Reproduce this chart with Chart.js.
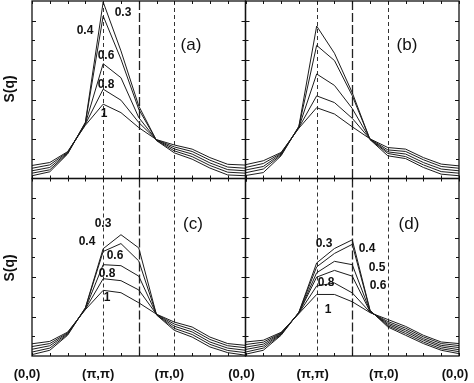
<!DOCTYPE html>
<html><head><meta charset="utf-8">
<script src="https://cdn.jsdelivr.net/npm/chart.js@4"></script>
<style>html,body{margin:0;padding:0;background:#fff;}#wrap{position:relative;width:474px;height:383px;}canvas{display:block;}</style>
</head><body><div id="wrap"><canvas id="c" width="474" height="383"></canvas></div>
<script>
// q-path index: (0,0) -> (pi,pi) -> (pi,0) -> (0,0)
const qIndex = [0,1,2,3,4,5,6,7,8,9,10,11,12];
const xTickPos = [0,4,8,12];
const xTickText = ['(0,0)','(\u03c0,\u03c0)','(\u03c0,0)','(0,0)'];
const yTickVals = [1,2,3,4,5,6,7,8];

// panel (a)
const a03 = [0.14,0.34,1.24,2.85,8.95,6.47,3.68,1.92,1.30,0.98,0.53,0.18,0.14];
const a04 = [0.27,0.44,1.27,2.82,8.24,6.05,3.51,1.93,1.40,1.11,0.66,0.32,0.27];
const a06 = [0.39,0.56,1.30,2.78,5.82,5.11,3.09,1.95,1.50,1.24,0.79,0.45,0.39];
const a08 = [0.52,0.69,1.33,2.75,4.53,3.97,2.84,1.96,1.60,1.37,0.93,0.58,0.52];
const a10 = [0.66,0.81,1.36,2.70,3.77,3.34,2.58,1.97,1.70,1.49,1.06,0.72,0.68];
// panel (b)
const b03 = [0.15,0.30,1.15,2.65,7.73,6.35,4.35,1.97,1.15,1.01,0.56,0.22,0.14];
const b04 = [0.29,0.48,1.19,2.63,6.75,5.98,4.20,1.98,1.27,1.11,0.69,0.35,0.27];
const b06 = [0.43,0.61,1.24,2.60,5.30,4.72,3.55,1.99,1.35,1.24,0.81,0.48,0.39];
const b08 = [0.56,0.76,1.28,2.58,4.19,3.85,3.05,2.00,1.45,1.37,0.95,0.61,0.52];
const b10 = [0.70,0.90,1.32,2.55,3.59,3.27,2.62,2.01,1.57,1.49,1.06,0.73,0.64];
// panel (c)
const c03 = [0.07,0.29,1.05,2.45,5.44,6.15,5.48,2.08,1.30,0.96,0.46,0.17,0.04];
const c04 = [0.20,0.40,1.09,2.43,5.30,5.70,4.82,2.09,1.40,1.09,0.59,0.28,0.17];
const c06 = [0.34,0.52,1.13,2.40,4.63,4.58,4.05,2.10,1.51,1.22,0.71,0.40,0.29];
const c08 = [0.48,0.63,1.17,2.38,3.92,3.82,3.35,2.11,1.62,1.34,0.84,0.52,0.42];
const c10 = [0.62,0.74,1.21,2.35,3.33,3.21,2.70,2.12,1.72,1.47,0.96,0.63,0.54];
// panel (d)
const d03 = [0.09,0.29,1.05,2.22,4.72,5.45,5.89,2.32,1.47,1.05,0.63,0.29,0.12];
const d04 = [0.20,0.40,1.08,2.21,4.52,5.20,5.66,2.30,1.53,1.14,0.71,0.37,0.22];
const d05 = [0.33,0.50,1.11,2.20,4.22,4.80,4.63,2.27,1.60,1.23,0.80,0.46,0.32];
const d06 = [0.45,0.60,1.14,2.18,4.00,4.34,4.05,2.25,1.67,1.32,0.88,0.54,0.43];
const d08 = [0.58,0.70,1.17,2.17,3.55,3.70,3.20,2.22,1.75,1.41,0.97,0.63,0.53];
const d10 = [0.71,0.80,1.20,2.15,3.12,3.12,2.75,2.20,1.85,1.50,1.05,0.71,0.63];

const panels = [
  {xs:'xL', ys:'yT', tag:'(a)', series:[a03,a04,a06,a08,a10]},
  {xs:'xR', ys:'yT', tag:'(b)', series:[b03,b04,b06,b08,b10]},
  {xs:'xL', ys:'yB', tag:'(c)', series:[c03,c04,c06,c08,c10]},
  {xs:'xR', ys:'yB', tag:'(d)', series:[d03,d04,d05,d06,d08,d10]}
];

const datasets = [];
panels.forEach(p => p.series.forEach(s => datasets.push({
  data: qIndex.map((q,i) => ({x:q, y:s[i]})),
  xAxisID: p.xs, yAxisID: p.ys,
  borderColor:'#1c1c1c', borderWidth:1, pointRadius:0, tension:0, fill:false
})));

const tagPos = {'(a)':[191,45], '(b)':[407,45], '(c)':[193,224], '(d)':[409,224]};
const curveLabels = [
  ['0.3',123,13],['0.4',85,31],['0.6',106,56],['0.8',106,85],['1',104,114],
  ['0.3',103,224],['0.4',87,242],['0.6',115,256],['0.8',107,274],['1',107,298],
  ['0.3',324,244],['0.4',367,249],['0.5',377,268],['0.6',378,286],['0.8',326,283],['1',328,310]
];

const deco = {
  id:'deco',
  beforeDatasetsDraw(chart){
    const ctx = chart.ctx;
    ctx.save();
    panels.forEach(p => {
      const xs = chart.scales[p.xs], ys = chart.scales[p.ys];
      [[4,[4,3],1,'#333'],[6,[9,3],1.3,'#222'],[8,[4,3],1,'#333']].forEach(([v,dash,w,col]) => {
        const x = Math.round(xs.getPixelForValue(v)) + 0.5;
        ctx.beginPath(); ctx.setLineDash(dash); ctx.lineWidth = w; ctx.strokeStyle = col;
        ctx.moveTo(x, ys.top); ctx.lineTo(x, ys.bottom); ctx.stroke();
      });
    });
    ctx.restore();
  },
  afterDatasetsDraw(chart){
    const ctx = chart.ctx;
    ctx.save();
    ctx.setLineDash([]);
    ctx.strokeStyle = '#111';
    panels.forEach(p => {
      const xs = chart.scales[p.xs], ys = chart.scales[p.ys];
      const L = xs.left, R = xs.right, T = ys.top, B = ys.bottom;
      ctx.lineWidth = 1;
      qIndex.forEach(v => {
        const x = Math.round(xs.getPixelForValue(v)) + 0.5;
        ctx.beginPath(); ctx.moveTo(x, B); ctx.lineTo(x, B - 3); ctx.moveTo(x, T); ctx.lineTo(x, T + 3); ctx.stroke();
      });
      yTickVals.forEach(v => {
        const y = Math.round(ys.getPixelForValue(v)) + 0.5;
        const len = v % 2 === 0 ? 4 : 3;
        ctx.beginPath(); ctx.moveTo(L, y); ctx.lineTo(L + len, y); ctx.moveTo(R, y); ctx.lineTo(R - len, y); ctx.stroke();
      });
      ctx.lineWidth = 1.3;
      ctx.strokeRect(L, T, R - L, B - T);
      ctx.fillStyle = '#111';
      ctx.font = '17px "Liberation Sans", Arial, sans-serif';
      ctx.textAlign = 'center'; ctx.textBaseline = 'middle';
      const tp = tagPos[p.tag];
      ctx.fillText(p.tag, tp[0], tp[1]);
    });
    ctx.font = 'bold 12px "Liberation Sans", Arial, sans-serif';
    ctx.textAlign = 'center'; ctx.textBaseline = 'middle';
    curveLabels.forEach(([t,x,y]) => ctx.fillText(t, x, y));
    // x tick labels under bottom panels
    ctx.font = 'bold 13px "Liberation Sans", Arial, sans-serif';
    const yb = chart.scales.yB.bottom + 18;
    const xL = chart.scales.xL, xR = chart.scales.xR;
    xTickPos.forEach((v,i) => { if (i < 3) ctx.fillText(xTickText[i], xL.getPixelForValue(v) - 5, yb); });
    xTickPos.forEach((v,i) => ctx.fillText(xTickText[i], xR.getPixelForValue(v) - 4, yb));
    // y titles
    ctx.font = 'bold 14px "Liberation Sans", Arial, sans-serif';
    [chart.scales.yT, chart.scales.yB].forEach((ys,i) => {
      ctx.save();
      ctx.translate(10, i === 0 ? 89 : 268);
      ctx.rotate(-Math.PI/2);
      ctx.fillText('S(q)', 0, 0);
      ctx.restore();
    });
    ctx.restore();
  }
};

const lin = (extra) => Object.assign({type:'linear', display:false}, extra);
new Chart(document.getElementById('c'), {
  type:'line',
  data:{datasets},
  options:{
    responsive:false, animation:false, devicePixelRatio:1,
    layout:{padding:{left:32, right:15, top:1, bottom:27}},
    plugins:{legend:{display:false}, tooltip:{enabled:false}},
    scales:{
      xL: lin({position:'bottom', stack:'xs', min:0, max:12}),
      xR: lin({position:'bottom', stack:'xs', min:0, max:12}),
      yB: lin({position:'left', stack:'ys', min:0, max:9}),
      yT: lin({position:'left', stack:'ys', min:0, max:9})
    }
  },
  plugins:[deco]
});
</script></body></html>
